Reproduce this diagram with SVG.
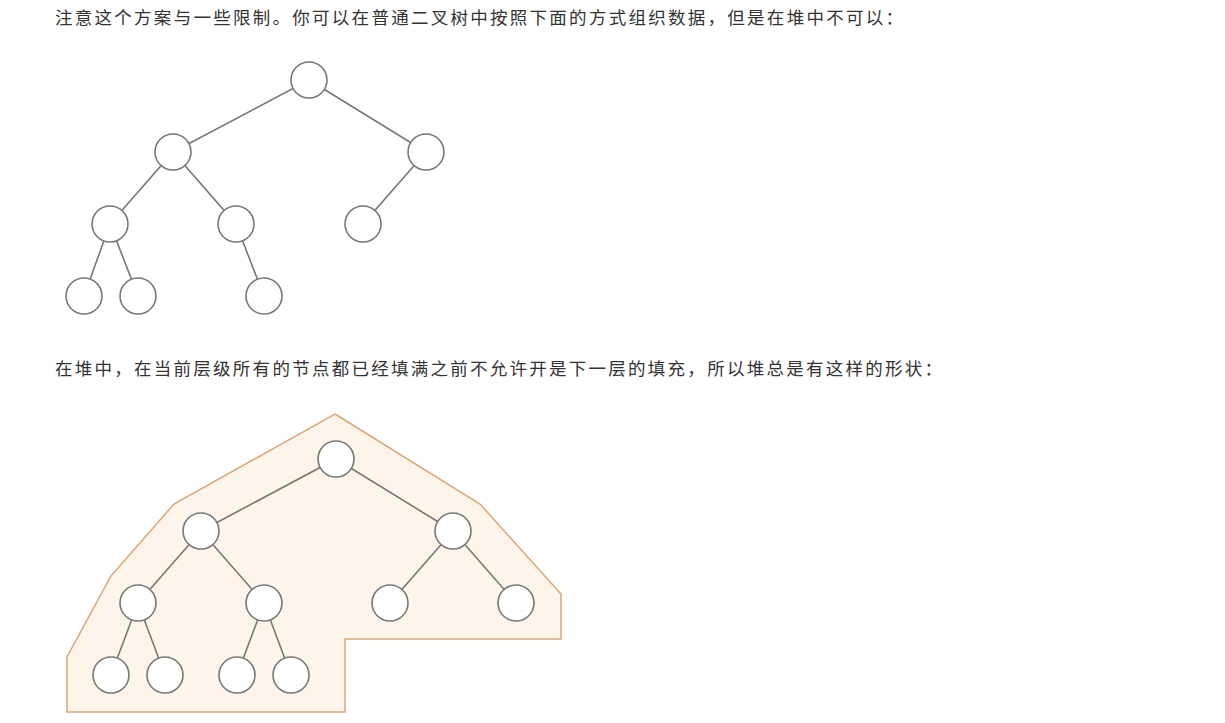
<svg xmlns="http://www.w3.org/2000/svg" width="1225" height="723" viewBox="0 0 1225 723">
<style>
.t{font-family:"Noto Sans CJK SC","Liberation Sans",sans-serif;font-size:17.5px;fill:#333}
.n{fill:#fff;stroke:#777;stroke-width:1.6}
.e{stroke:#777;stroke-width:1.6;fill:none}
</style>
<rect width="1225" height="723" fill="#fff"/>
<text class="t" x="55" y="24" textLength="848" lengthAdjust="spacing">注意这个方案与一些限制。你可以在普通二叉树中按照下面的方式组织数据，但是在堆中不可以：</text>
<text class="t" x="55" y="375" textLength="887" lengthAdjust="spacing">在堆中，在当前层级所有的节点都已经填满之前不允许开是下一层的填充，所以堆总是有这样的形状：</text>
<polygon points="335,414 480,504 561,594 561,639 345,639 345,712 67,712 67,657 111,576 174,504" fill="#fef4e9" stroke="#d9a778" stroke-width="1.5"/>
<g id="connectors">
<path class="e" d="M309,80L173,152M309,80L426,152M173,152L110,224M173,152L236,224M426,152L363,224M110,224L84,296M110,224L138,296M236,224L264,296"/>
<path class="e" d="M336,459L201,531M336,459L453,531M201,531L138,603M201,531L264,603M453,531L390,603M453,531L516,603M138,603L111,675M138,603L165,675M264,603L237,675M264,603L291,675"/>
</g>
<g id="tree1">
<circle id="a1" class="n" cx="309" cy="80" r="18"/>
<circle id="a2" class="n" cx="173" cy="152" r="18"/>
<circle id="a3" class="n" cx="426" cy="152" r="18"/>
<circle id="a4" class="n" cx="110" cy="224" r="18"/>
<circle id="a5" class="n" cx="236" cy="224" r="18"/>
<circle id="a6" class="n" cx="363" cy="224" r="18"/>
<circle id="a7" class="n" cx="84" cy="296" r="18"/>
<circle id="a8" class="n" cx="138" cy="296" r="18"/>
<circle id="a9" class="n" cx="264" cy="296" r="18"/>
</g>
<g id="tree2">
<circle id="b1" class="n" cx="336" cy="459" r="18"/>
<circle id="b2" class="n" cx="201" cy="531" r="18"/>
<circle id="b3" class="n" cx="453" cy="531" r="18"/>
<circle id="b4" class="n" cx="138" cy="603" r="18"/>
<circle id="b5" class="n" cx="264" cy="603" r="18"/>
<circle id="b6" class="n" cx="390" cy="603" r="18"/>
<circle id="b7" class="n" cx="516" cy="603" r="18"/>
<circle id="b8" class="n" cx="111" cy="675" r="18"/>
<circle id="b9" class="n" cx="165" cy="675" r="18"/>
<circle id="b10" class="n" cx="237" cy="675" r="18"/>
<circle id="b11" class="n" cx="291" cy="675" r="18"/>
</g>
</svg>
